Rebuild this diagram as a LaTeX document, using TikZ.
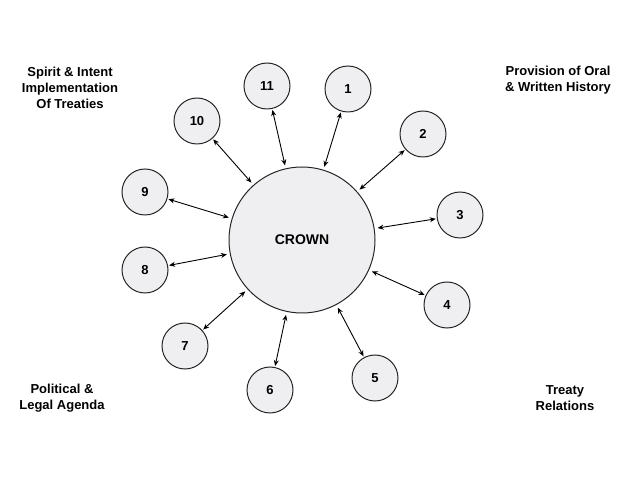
\documentclass[tikz,border=0pt]{standalone}
\usepackage{fontspec}
\setmainfont{Liberation Sans}
\usetikzlibrary{arrows.meta}
\begin{document}
\begin{tikzpicture}[x=1pt,y=-1pt,
  sm/.style={circle,draw=black!85,line width=1pt,fill=blue!6!gray!12,minimum size=46pt,inner sep=0pt,font=\fontsize{13}{15}\selectfont\bfseries},
  big/.style={circle,draw=black!85,line width=1pt,fill=blue!6!gray!12,minimum size=146pt,inner sep=0pt,font=\fontsize{14}{16}\selectfont\bfseries},
  lab/.style={align=center,font=\fontsize{13}{16}\selectfont\bfseries},
  con/.style={{Stealth[length=6pt,width=5pt]}-{Stealth[length=6pt,width=5pt]},line width=0.9pt,shorten <=1pt,shorten >=3pt}]
\useasboundingbox (0,0) rectangle (638,478);
\node[big] (c) at (302,240) {CROWN};
\node[sm] (n1) at (348,89) {1};
\node[sm] (n2) at (423,134) {2};
\node[sm] (n3) at (460,215) {3};
\node[sm] (n4) at (447,305) {4};
\node[sm] (n5) at (375,378) {5};
\node[sm] (n6) at (270,390) {6};
\node[sm] (n7) at (185,346) {7};
\node[sm] (n8) at (145,270) {8};
\node[sm] (n9) at (145,192) {9};
\node[sm] (n10) at (197,121) {10};
\node[sm] (n11) at (267,86) {11};
\foreach \i in {1,...,11} \draw[con] (n\i) -- (c);
\node[lab] (t1) at (70,88) {Spirit \& Intent\\Implementation\\Of Treaties};
\node[lab] (t2) at (558,80) {Provision of Oral\\\& Written History};
\node[lab] (t3) at (62,398) {Political \&\\Legal Agenda};
\node[lab] (t4) at (565,398) {Treaty\\Relations};
\end{tikzpicture}
\end{document}
